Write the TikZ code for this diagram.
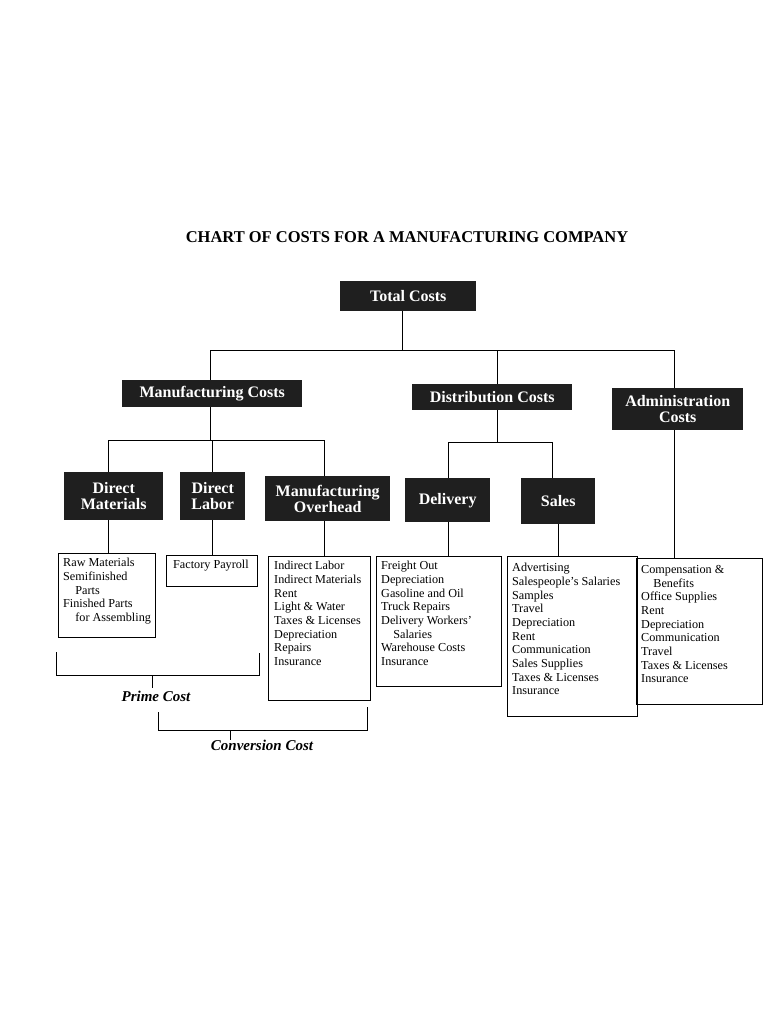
\documentclass[tikz,border=0pt]{standalone}
\usepackage{fontspec}
\setmainfont{Liberation Serif}
\begin{document}
\begin{tikzpicture}[x=1pt,y=-1pt,
  blk/.style={fill=black!88,text=white,font=\fontsize{16}{16.5}\selectfont\bfseries,align=center,inner sep=0pt,anchor=north west},
  box/.style={draw,thick,anchor=north west,inner sep=0pt},
  lst/.style={anchor=north west,align=left,font=\fontsize{12.2}{13.7}\selectfont,inner sep=0pt},
  ln/.style={line width=0.7pt}]
\useasboundingbox (0,0) rectangle (768,1024);
\node[font=\fontsize{16.5}{18}\selectfont\bfseries] (title) at (407,237) {CHART OF COSTS FOR A MANUFACTURING COMPANY};
\node[blk,minimum width=136,minimum height=30] (tc) at (340,281) {Total Costs};
\node[blk,minimum width=180,minimum height=27] (mc) at (122,380) {Manufacturing Costs};
\node[blk,minimum width=160,minimum height=26] (dc) at (412,384) {Distribution Costs};
\node[blk,minimum width=131,minimum height=42] (ac) at (612,388) {Administration\\Costs};
\node[blk,minimum width=99,minimum height=48] (dm) at (64,472) {Direct\\Materials};
\node[blk,minimum width=65,minimum height=48] (dl) at (180,472) {Direct\\Labor};
\node[blk,minimum width=125,minimum height=45] (mo) at (265,476) {Manufacturing\\Overhead};
\node[blk,minimum width=85,minimum height=44] (de) at (405,478) {Delivery};
\node[blk,minimum width=74,minimum height=46] (sa) at (521,478) {Sales};
\node[box,minimum width=97,minimum height=84] (l1) at (58,553) {};
\node[lst] (t1) at (63,558) {Raw Materials\\Semifinished\\\quad Parts\\Finished Parts\\\quad for Assembling};
\node[box,minimum width=91,minimum height=31] (l2) at (166,555) {};
\node[lst] (t2) at (173,560) {Factory Payroll};
\node[box,minimum width=102,minimum height=144] (l3) at (268,556) {};
\node[lst] (t3) at (274,561) {Indirect Labor\\Indirect Materials\\Rent\\Light \& Water\\Taxes \& Licenses\\Depreciation\\Repairs\\Insurance};
\node[box,minimum width=125,minimum height=130] (l4) at (376,556) {};
\node[lst] (t4) at (381,561) {Freight Out\\Depreciation\\Gasoline and Oil\\Truck Repairs\\Delivery Workers'\\\quad Salaries\\Warehouse Costs\\Insurance};
\node[box,minimum width=130,minimum height=160] (l5) at (507,556) {};
\node[lst] (t5) at (512,563) {Advertising\\Salespeople's Salaries\\Samples\\Travel\\Depreciation\\Rent\\Communication\\Sales Supplies\\Taxes \& Licenses\\Insurance};
\node[box,minimum width=126,minimum height=146] (l6) at (636,558) {};
\node[lst] (t6) at (641,565) {Compensation \&\\\quad Benefits\\Office Supplies\\Rent\\Depreciation\\Communication\\Travel\\Taxes \& Licenses\\Insurance};
% connectors
\draw[ln] (tc.south -| 402,0) -- (402,350);
\draw[ln] (210,350) -- (674,350);
\draw[ln] (210,350) -- (mc.north -| 210,0);
\draw[ln] (497,350) -- (dc.north -| 497,0);
\draw[ln] (674,350) -- (ac.north -| 674,0);
\draw[ln] (mc.south -| 210,0) -- (210,440);
\draw[ln] (108,440) -- (324,440);
\draw[ln] (108,440) -- (dm.north -| 108,0);
\draw[ln] (212,440) -- (dl.north -| 212,0);
\draw[ln] (324,440) -- (mo.north -| 324,0);
\draw[ln] (dc.south -| 497,0) -- (497,442);
\draw[ln] (448,442) -- (552,442);
\draw[ln] (448,442) -- (de.north -| 448,0);
\draw[ln] (552,442) -- (sa.north -| 552,0);
\draw[ln] (dm.south -| 108,0) -- (l1.north -| 108,0);
\draw[ln] (dl.south -| 212,0) -- (l2.north -| 212,0);
\draw[ln] (mo.south -| 324,0) -- (l3.north -| 324,0);
\draw[ln] (de.south -| 448,0) -- (l4.north -| 448,0);
\draw[ln] (sa.south -| 558,0) -- (l5.north -| 558,0);
\draw[ln] (ac.south -| 674,0) -- (l6.north -| 674,0);
% brackets
\coordinate (pc) at (152,688);
\draw[ln] (56,652) -- (56,675) -- (259,675) -- (259,653);
\draw[ln] (152,675) -- (pc);
\node[font=\fontsize{15}{16}\selectfont\bfseries\itshape,anchor=north] (pct) at (156,688) {Prime Cost};
\coordinate (cc) at (230,740);
\draw[ln] (158,712) -- (158,730) -- (367,730) -- (367,707);
\draw[ln] (230,730) -- (cc);
\node[font=\fontsize{15}{16}\selectfont\bfseries\itshape,anchor=north] (cct) at (262,737) {Conversion Cost};
\end{tikzpicture}
\end{document}
